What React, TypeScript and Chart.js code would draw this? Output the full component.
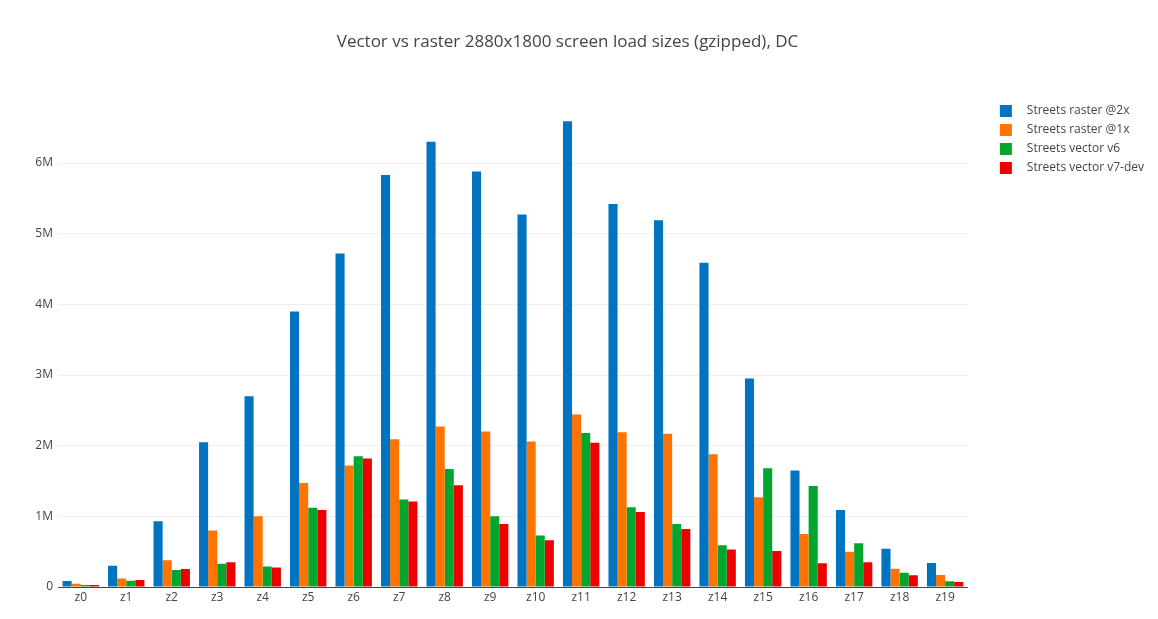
import React, { useEffect, useRef } from "react";
import { Chart, registerables } from "chart.js";

Chart.register(...registerables);

const categories = ["z0","z1","z2","z3","z4","z5","z6","z7","z8","z9","z10","z11","z12","z13","z14","z15","z16","z17","z18","z19"];
const rasterAt2x = [85000, 300000, 930000, 2050000, 2700000, 3900000, 4720000, 5830000, 6300000, 5880000, 5270000, 6590000, 5420000, 5190000, 4590000, 2950000, 1650000, 1090000, 540000, 340000];
const rasterAt1x = [45000, 120000, 380000, 800000, 1000000, 1470000, 1720000, 2090000, 2270000, 2200000, 2060000, 2440000, 2190000, 2170000, 1880000, 1270000, 750000, 500000, 260000, 170000];
const vectorV6 = [30000, 90000, 240000, 330000, 290000, 1120000, 1850000, 1240000, 1670000, 1000000, 730000, 2180000, 1130000, 890000, 590000, 1680000, 1430000, 620000, 200000, 80000];
const vectorV7dev = [30000, 100000, 255000, 350000, 275000, 1090000, 1820000, 1210000, 1440000, 890000, 660000, 2040000, 1060000, 820000, 530000, 510000, 335000, 350000, 165000, 70000];
const seriesNames = ["Streets raster @2x", "Streets raster @1x", "Streets vector v6", "Streets vector v7-dev"];
const seriesColors = ["#0074c1", "#ff7300", "#00a62e", "#ee0000"];
const yTickValues = [0, 1000000, 2000000, 3000000, 4000000, 5000000, 6000000];
const yTickLabels = ["0", "1M", "2M", "3M", "4M", "5M", "6M"];
const titleText = "Vector vs raster 2880x1800 screen load sizes (gzipped), DC";

const FONT = "'Open Sans', sans-serif";

// Draw 12x12 legend swatches at the legend's own item positions (label boxes are left transparent to widen the gap)
const legendSwatches = {
  id: "legendSwatches",
  afterLayout(chart: any) {
    if (chart.titleBlock) {
      chart.titleBlock.left = 0;
      chart.titleBlock.right = chart.width - 23;
    }
  },
  afterDraw(chart: any) {
    const lg = chart.legend;
    if (!lg || !lg.legendHitBoxes) return;
    const ctx = chart.ctx;
    ctx.save();
    lg.legendHitBoxes.forEach((hb: any, i: number) => {
      ctx.fillStyle = seriesColors[i];
      ctx.fillRect(hb.left, hb.top, 12, 12);
    });
    ctx.restore();
  },
};

export default function App() {
  const ref = useRef<HTMLCanvasElement | null>(null);
  useEffect(() => {
    if (!ref.current) return;
    const values = [rasterAt2x, rasterAt1x, vectorV6, vectorV7dev];
    const chart = new Chart(ref.current, {
      type: "bar",
      data: {
        labels: categories,
        datasets: values.map((d, i) => ({
          label: seriesNames[i],
          data: d,
          backgroundColor: seriesColors[i],
          borderWidth: 0,
          categoryPercentage: 0.8,
          barPercentage: 1.0,
        })),
      },
      plugins: [legendSwatches],
      options: {
        responsive: false,
        animation: false,
        layout: { padding: { left: 0, right: 4, top: 0, bottom: 0 } },
        plugins: {
          title: {
            display: true,
            text: titleText,
            color: "#444",
            font: { family: FONT, size: 17, weight: "normal" },
            padding: { top: 32, bottom: 45.6 },
          },
          legend: {
            position: "right",
            align: "start",
            fullSize: false,
            labels: {
              boxWidth: 21,
              boxHeight: 12,
              padding: 7,
              color: "#444",
              font: { family: FONT, size: 12 },
              generateLabels: (c: any) =>
                c.data.datasets.map((ds: any, i: number) => ({
                  text: ds.label,
                  fillStyle: "rgba(0,0,0,0)",
                  strokeStyle: "rgba(0,0,0,0)",
                  lineWidth: 0,
                  hidden: false,
                  datasetIndex: i,
                  fontColor: "#444",
                })),
            },
          },
          tooltip: { enabled: false },
        },
        scales: {
          x: {
            grid: { display: false, drawTicks: false },
            border: { display: false },
            ticks: { color: "#444", font: { family: FONT, size: 12 }, padding: 3, maxRotation: 0 },
            afterFit: (s: any) => { s.height = 32; },
          },
          y: {
            min: 0,
            max: 6920000,
            grid: {
              drawTicks: false,
              color: (c: any) => (c.tick && c.tick.value === 0 ? "#444" : "#eeeeee"),
              lineWidth: 1,
            },
            border: { display: false },
            afterBuildTicks: (s: any) => {
              s.ticks = yTickValues.map((v) => ({ value: v }));
            },
            ticks: {
              autoSkip: false,
              color: "#444",
              font: { family: FONT, size: 12 },
              padding: 5,
              callback: (v: any) => {
                const i = yTickValues.indexOf(Number(v));
                return i >= 0 ? yTickLabels[i] : "";
              },
            },
            afterFit: (s: any) => { s.width = 58; },
          },
          gap: {
            type: "linear",
            position: "right",
            display: true,
            grid: { display: false, drawTicks: false },
            border: { display: false },
            ticks: { display: false },
            afterFit: (s: any) => { s.width = 25; },
          },
        },
      } as any,
    });
    return () => chart.destroy();
  }, []);
  return (
    <div style={{ position: "absolute", left: 0, top: 0, width: 1158, height: 619, background: "#fff" }}>
      <canvas ref={ref} width={1158} height={619} />
    </div>
  );
}
